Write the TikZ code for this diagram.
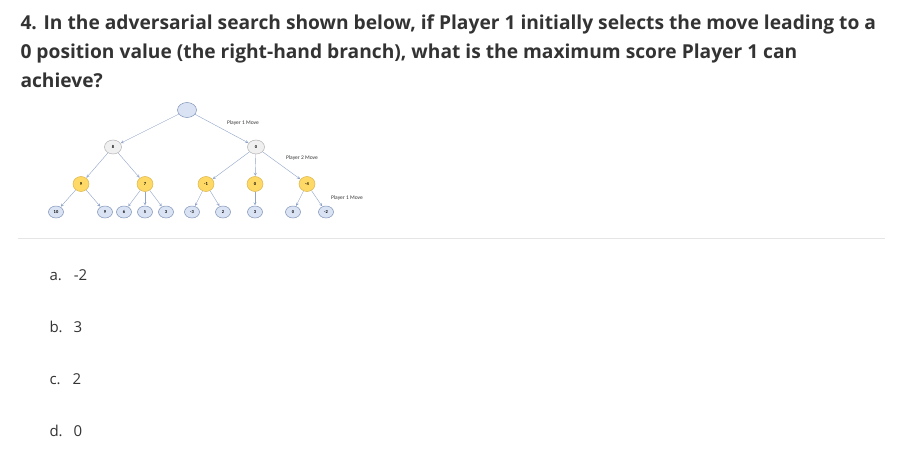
\documentclass[tikz,border=0pt]{standalone}
\usepackage{fontspec}
\setmainfont{Open Sans}
\newfontfamily\carlfont{Carlito}
\definecolor{lfill}{HTML}{DAE3F3}
\definecolor{ldraw}{HTML}{7F93B8}
\definecolor{yfill}{HTML}{FFD966}
\definecolor{ydraw}{HTML}{D9B44A}
\definecolor{edg}{HTML}{8FA3C8}
\tikzset{
 x=1pt,y=-1pt,
 lf/.style={ellipse,draw=ldraw,fill=lfill,line width=0.5pt,minimum width=15pt,minimum height=12pt,inner sep=0pt,font=\carlfont\fontsize{4.5}{4.5}\selectfont\bfseries},
 gr/.style={lf,fill=gray!12,draw=gray!60,minimum width=17pt,minimum height=14pt},
 ye/.style={lf,fill=yfill,draw=ydraw,minimum width=16pt,minimum height=15pt},
 rt/.style={lf,minimum width=19pt,minimum height=15pt},
 ed/.style={draw=edg,line width=0.4pt,-{stealth}, shorten >=0.3pt},
 lb/.style={font=\carlfont\fontsize{5.5}{5.5}\selectfont,text=black!80},
 q/.style={anchor=base west,font=\fontsize{19.2}{19.2}\selectfont\bfseries,text=black!80},
 opt/.style={anchor=base west,font=\fontsize{15}{15}\selectfont,text=black!80},
}
\usetikzlibrary{shapes.geometric,arrows.meta}
\begin{document}
\begin{tikzpicture}
\useasboundingbox (0,0) rectangle (905,466);
\node[q] (q1) at (17,29) {4. In the adversarial search shown below, if Player 1 initially selects the move leading to a};
\node[q] (q2) at (17,58) {0 position value (the right-hand branch), what is the maximum score Player 1 can};
\node[q] (q3) at (17,87) {achieve?};
\node[rt] (r) at (187,110) {};
\node[gr] (a) at (113,147) {8};
\node[gr] (b) at (256,147) {0};
\node[ye] (a1) at (81,184) {9};
\node[ye] (a2) at (145,184) {7};
\node[ye] (b1) at (206,184) {-1};
\node[ye] (b2) at (255,184) {0};
\node[ye] (b3) at (307,184) {-4};
\node[lf] (l1) at (56,212) {10};
\node[lf] (l2) at (105,212) {9};
\node[lf] (l3) at (124,212) {6};
\node[lf] (l4) at (145,212) {5};
\node[lf] (l5) at (166,212) {3};
\node[lf] (l6) at (192,212) {-3};
\node[lf] (l7) at (223,212) {2};
\node[lf] (l8) at (255,212) {3};
\node[lf] (l9) at (293,212) {0};
\node[lf] (l10) at (326,212) {-2};
\foreach \u/\v in {r/a,r/b,a/a1,a/a2,b/b1,b/b2,b/b3,a1/l1,a1/l2,a2/l3,a2/l4,a2/l5,b1/l6,b1/l7,b2/l8,b3/l9,b3/l10}
  \draw[ed] (\u) -- (\v);
\node[lb] (p1) at (243,123) {Player 1 Move};
\node[lb] (p2) at (302,158) {Player 2 Move};
\node[lb] (p3) at (347,198) {Player 1 Move};
\coordinate (s1) at (18,238); \coordinate (s2) at (885,238);
\draw[gray!20,line width=0.7pt] (s1) -- (s2);
\node[opt] (oa) at (46,280) {a.\hspace{12pt}-2};
\node[opt] (ob) at (46,332) {b.\hspace{11pt}3};
\node[opt] (oc) at (46,384) {c.\hspace{12pt}2};
\node[opt] (od) at (46,436) {d.\hspace{11pt}0};
\end{tikzpicture}
\end{document}
